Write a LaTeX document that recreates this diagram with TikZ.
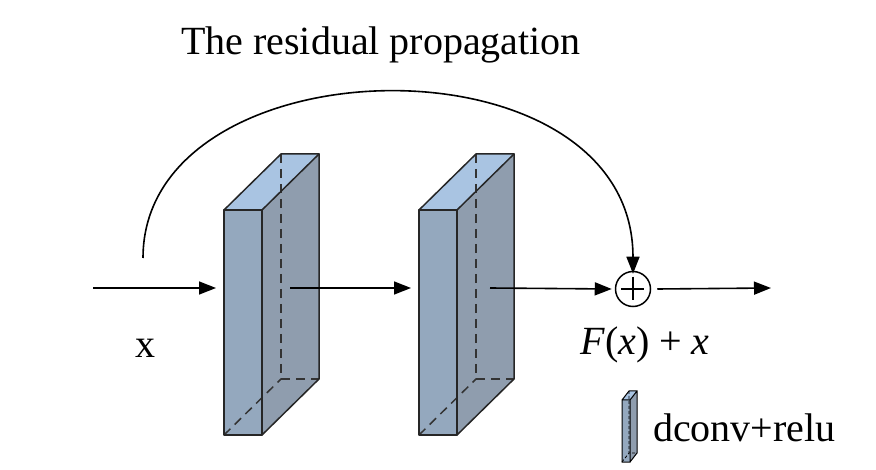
\documentclass[tikz,border=0pt]{standalone}
\usepackage{fontspec}
\setmainfont{Liberation Serif}
\usetikzlibrary{arrows.meta}
\definecolor{frontc}{HTML}{94A8BE}
\definecolor{sidec}{HTML}{8F9DAE}
\definecolor{topc}{HTML}{A9C4E2}
\tikzset{
 edge/.style={line width=1.5pt,color=black!85,line cap=round},
 arr/.style={line width=1.6pt,-{Triangle[length=17pt,width=13pt]}},
 lbl/.style={font=\fontsize{40}{44}\selectfont,inner sep=0pt},
 hidden/.style={line width=1.5pt,dash pattern=on 9pt off 6pt,color=black!80}
}
\newcommand{\prism}[6]{% x y w h dx dy
 \fill[frontc] (#1,#2) rectangle ++(#3,#4);
 \fill[sidec] (#1+#3,#2) -- ++(#5,-#6) -- ++(0,#4) -- ++(-#5,#6) -- cycle;
 \fill[topc] (#1,#2) -- ++(#5,-#6) -- ++(#3,0) -- ++(-#5,#6) -- cycle;
 \draw[hidden] (#1+#5,#2-#6) -- ++(0,#4) -- ++(#3,0);
 \draw[hidden] (#1,#2+#4) -- ++(#5,-#6);
 \draw[edge,line join=round] (#1,#2) rectangle ++(#3,#4);
 \draw[edge,line join=round] (#1,#2) -- ++(#5,-#6) -- ++(#3,0) -- ++(0,#4) -- ++(-#5,#6);
 \draw[edge] (#1+#3,#2) -- ++(#5,-#6);
}
\begin{document}
\begin{tikzpicture}[x=1pt,y=-1pt]
\useasboundingbox (0,0) rectangle (876,470);
\prism{224}{210}{38}{225}{57}{56}
\prism{419}{210}{38}{225}{57}{56}
\node[circle,draw,line width=1.5pt,minimum size=35pt,inner sep=0pt] (sum) at (633,289) {};
\draw[line width=1.4pt] (sum.north) ++(0,6) -- ++(0,23) (sum.west) ++(6,0) -- ++(23,0);
\coordinate (in) at (93,288);
\coordinate (b1in) at (216,288);
\coordinate (b1out) at (290,288);
\coordinate (b2in) at (411,288);
\coordinate (b2out) at (490,288);
\coordinate (out) at (771,288);
\coordinate (arcS) at (143,258);
\draw[arr] (in) -- (b1in);
\draw[arr] (b1out) -- (b2in);
\draw[arr] (b2out) -- ([xshift=-3pt]sum.west);
\draw[arr] ([xshift=6pt]sum.east) -- (out);
\draw[arr] (arcS) .. controls (143,40) and (633,30) .. ([yshift=-3pt]sum.north);
\node[lbl] (title) at (381,45) {The residual propagation};
\node[lbl] (x) at (145,348) {x};
\node[lbl] (fx) at (645,345) {\textit{F}(\textit{x}) + \textit{x}};
\fill[frontc] (622,400) rectangle (630,462);
\fill[sidec] (630,400) -- (637,391) -- (637,453) -- (630,462) -- cycle;
\fill[topc] (622,400) -- (629,391) -- (637,391) -- (630,400) -- cycle;
\draw[line width=1pt] (622,400) rectangle (630,462) (622,400) -- (629,391) -- (637,391) -- (637,453) -- (630,462) (630,400) -- (637,391);
\draw[line width=0.8pt,dash pattern=on 3pt off 2pt] (629,391) -- (629,453) -- (637,453) (622,462) -- (629,453);
\node[lbl,anchor=west] (leg) at (653,428) {dconv+relu};
\end{tikzpicture}
\end{document}
